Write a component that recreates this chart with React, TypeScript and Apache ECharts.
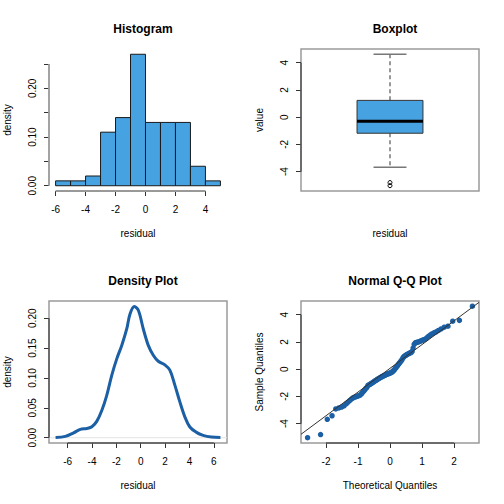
import React, { useEffect, useRef } from "react";
import * as echarts from "echarts";

// ---------- Data ----------
const HIST_BIN_START = [-6, -5, -4, -3, -2, -1, 0, 1, 2, 3, 4];
const HIST_BIN_END = [-5, -4, -3, -2, -1, 0, 1, 2, 3, 4, 5];
const HIST_DENSITY = [0.01, 0.01, 0.02, 0.11, 0.14, 0.27, 0.13, 0.13, 0.13, 0.04, 0.01];
const HIST_X_TICKS = [-6, -4, -2, 0, 2, 4];
const HIST_Y_TICKS = [0, 0.05, 0.1, 0.15, 0.2, 0.25];
const HIST_Y_LABELS = [0, 0.1, 0.2];

// boxplot stats: lower whisker, Q1, median, Q3, upper whisker
const BOX_STATS = [-3.68, -1.18, -0.31, 1.23, 4.62];
const BOX_OUTLIERS = [-5.03, -4.8];
const BOX_Y_TICKS = [-4, -2, 0, 2, 4];

const DENSITY_X = [-6.99, -6.19, -5.51, -4.96, -4.42, -4.01, -3.6, -3.19, -2.79, -2.38, -1.97, -1.56, -1.15, -0.88, -0.52, -0.19, 0.21, 0.62, 1.03, 1.44, 1.98, 2.39, 2.8, 3.21, 3.62, 4.03, 4.57, 5.12, 5.8, 6.54];
const DENSITY_Y = [0.0005, 0.0023, 0.0083, 0.014, 0.0156, 0.0183, 0.0278, 0.046, 0.071, 0.1045, 0.132, 0.1545, 0.182, 0.207, 0.2195, 0.213, 0.182, 0.1545, 0.138, 0.128, 0.122, 0.113, 0.088, 0.06, 0.035, 0.018, 0.009, 0.004, 0.0012, 0.0003];
const DENSITY_X_TICKS = [-6, -4, -2, 0, 2, 4, 6];
const DENSITY_Y_TICKS = [0, 0.05, 0.1, 0.15, 0.2];

const THEORETICAL = [
  -2.576, -2.17, -1.96, -1.812, -1.695, -1.598, -1.514, -1.44, -1.372, -1.311,
  -1.254, -1.2, -1.15, -1.103, -1.058, -1.015, -0.974, -0.935, -0.896, -0.86,
  -0.824, -0.789, -0.755, -0.722, -0.69, -0.659, -0.628, -0.598, -0.568, -0.539,
  -0.51, -0.482, -0.454, -0.426, -0.399, -0.372, -0.345, -0.319, -0.292, -0.266,
  -0.24, -0.215, -0.189, -0.164, -0.138, -0.113, -0.088, -0.063, -0.038, -0.013,
  0.013, 0.038, 0.063, 0.088, 0.113, 0.138, 0.164, 0.189, 0.215, 0.24,
  0.266, 0.292, 0.319, 0.345, 0.372, 0.399, 0.426, 0.454, 0.482, 0.51,
  0.539, 0.568, 0.598, 0.628, 0.659, 0.69, 0.722, 0.755, 0.789, 0.824,
  0.86, 0.896, 0.935, 0.974, 1.015, 1.058, 1.103, 1.15, 1.2, 1.254,
  1.311, 1.372, 1.44, 1.514, 1.598, 1.695, 1.812, 1.96, 2.17, 2.576,
];
const SAMPLE = [
  -5.03, -4.8, -3.68, -3.42, -2.92, -2.85, -2.78, -2.7, -2.55, -2.42,
  -2.3, -2.18, -2.1, -2.05, -2.02, -1.98, -1.95, -1.9, -1.82, -1.72,
  -1.62, -1.52, -1.42, -1.33, -1.2, -1.16, -1.12, -1.07, -1.03, -0.98,
  -0.93, -0.88, -0.84, -0.8, -0.76, -0.72, -0.68, -0.64, -0.6, -0.57,
  -0.54, -0.51, -0.48, -0.45, -0.42, -0.39, -0.36, -0.34, -0.32, -0.3,
  -0.28, -0.25, -0.21, -0.16, -0.1, -0.04, 0.05, 0.12, 0.2, 0.28,
  0.36, 0.44, 0.52, 0.6, 0.68, 0.8, 0.9, 0.96, 0.99, 1.04,
  1.08, 1.12, 1.16, 1.2, 1.22, 1.3, 1.55, 1.82, 1.93, 1.96,
  1.98, 2.0, 2.04, 2.08, 2.12, 2.16, 2.2, 2.3, 2.4, 2.5,
  2.58, 2.66, 2.74, 2.84, 2.95, 3.08, 3.15, 3.52, 3.58, 4.62,
];
const QQ_INTERCEPT = 0.06;
const QQ_SLOPE = 1.74;
const QQ_X_TICKS = [-2, -1, 0, 1, 2];
const QQ_Y_TICKS = [-4, -2, 0, 2, 4];

// axis limits (R style 4% extension)
const HIST_XLIM = [-6.44, 5.44];
const HIST_YLIM = [-0.0108, 0.2808];
const BOX_XLIM = [0.46, 1.54];
const SAMPLE_YLIM = [-5.42, 5.0];
const DENSITY_XLIM = [-7.53, 7.08];
const DENSITY_YLIM = [-0.0088, 0.2288];
const QQ_XLIM = [-2.782, 2.782];

// ---------- Styling ----------
const FONT = "Liberation Sans, Arial, Helvetica, sans-serif";
const FILL = "#47a2e1";
const DARK_BLUE = "#1b5fa4";
const BOX_BORDER = "#9a9a9a";
const AXIS_COLOR = "#555";

const PANEL_LEFT = 49;
const PANEL_TOP = 49;
const PANEL_W = 178;
const PANEL_H = 142;
const CELL = 252;

function gridFor(col: number, row: number, boxed: boolean) {
  return {
    left: PANEL_LEFT + col * CELL,
    top: PANEL_TOP + row * CELL,
    width: PANEL_W,
    height: PANEL_H,
    show: boxed,
    borderColor: BOX_BORDER,
    borderWidth: 1.5,
    backgroundColor: "transparent",
  };
}

const fmt2 = (v: number) => v.toFixed(2);
const fmtInt = (v: number) => String(Math.round(v));

function xAxisFor(idx: number, lim: number[], ticks: number[], labels: number[], name: string, fmt: (v: number) => string) {
  return {
    type: "value",
    gridIndex: idx,
    position: "bottom",
    min: lim[0],
    max: lim[1],
    axisLine: { show: false, onZero: false },
    splitLine: { show: false },
    axisTick: {
      show: ticks.length > 0,
      length: 5,
      customValues: ticks,
      lineStyle: { color: "#333", width: 1 },
    },
    axisLabel: {
      show: labels.length > 0,
      customValues: labels,
      formatter: (v: number) => fmt(v),
      margin: 13,
      fontSize: 10,
      color: "#000",
      fontFamily: FONT,
    },
    name,
    nameLocation: "middle",
    nameGap: 37,
    nameTextStyle: { fontSize: 10, color: "#000", fontFamily: FONT },
  };
}

function yAxisFor(idx: number, lim: number[], ticks: number[], labels: number[], name: string, fmt: (v: number) => string) {
  return {
    type: "value",
    gridIndex: idx,
    position: "left",
    min: lim[0],
    max: lim[1],
    axisLine: { show: false, onZero: false },
    splitLine: { show: false },
    axisTick: {
      show: ticks.length > 0,
      length: 5,
      customValues: ticks,
      lineStyle: { color: "#333", width: 1 },
    },
    axisLabel: {
      show: labels.length > 0,
      customValues: labels,
      formatter: (v: number) => fmt(v),
      rotate: 90,
      margin: 12,
      fontSize: 10,
      color: "#000",
      fontFamily: FONT,
    },
    name,
    nameLocation: "middle",
    nameRotate: 90,
    nameGap: 37,
    nameTextStyle: { fontSize: 10, color: "#000", fontFamily: FONT },
  };
}

function axisLineSeries(idx: number, pts: number[][], color: string, width: number) {
  return {
    type: "line",
    xAxisIndex: idx,
    yAxisIndex: idx,
    data: pts,
    symbol: "none",
    silent: true,
    clip: false,
    z: 5,
    lineStyle: { color, width },
  };
}

function titleFor(col: number, row: number, text: string) {
  return {
    text,
    left: PANEL_LEFT + col * CELL + PANEL_W / 2,
    top: 18 + row * CELL,
    textAlign: "center",
    textStyle: { fontSize: 12, fontWeight: "bold", color: "#000", fontFamily: FONT },
  };
}

export default function App() {
  const ref = useRef<HTMLDivElement>(null);

  useEffect(() => {
    if (!ref.current) return;
    const chart = echarts.init(ref.current, null, { renderer: "svg" });

    const histData = HIST_BIN_START.map((s, i) => [s, HIST_BIN_END[i], HIST_DENSITY[i]]);
    const densityData = DENSITY_X.map((x, i) => [x, DENSITY_Y[i]]);
    const qqData = THEORETICAL.map((x, i) => [x, SAMPLE[i]]);
    const qqLine = QQ_XLIM.map((x) => [x, QQ_INTERCEPT + QQ_SLOPE * x]);

    const option: any = {
      animation: false,
      backgroundColor: "#fff",
      textStyle: { fontFamily: FONT },
      title: [
        titleFor(0, 0, "Histogram"),
        titleFor(1, 0, "Boxplot"),
        titleFor(0, 1, "Density Plot"),
        titleFor(1, 1, "Normal Q-Q Plot"),
      ],
      grid: [gridFor(0, 0, false), gridFor(1, 0, true), gridFor(0, 1, true), gridFor(1, 1, true)],
      xAxis: [
        xAxisFor(0, HIST_XLIM, HIST_X_TICKS, HIST_X_TICKS, "residual", fmtInt),
        xAxisFor(1, BOX_XLIM, [], [], "residual", fmtInt),
        xAxisFor(2, DENSITY_XLIM, DENSITY_X_TICKS, DENSITY_X_TICKS, "residual", fmtInt),
        xAxisFor(3, QQ_XLIM, QQ_X_TICKS, QQ_X_TICKS, "Theoretical Quantiles", fmtInt),
      ],
      yAxis: [
        yAxisFor(0, HIST_YLIM, HIST_Y_TICKS, HIST_Y_LABELS, "density", fmt2),
        yAxisFor(1, SAMPLE_YLIM, BOX_Y_TICKS, BOX_Y_TICKS, "value", fmtInt),
        yAxisFor(2, DENSITY_YLIM, DENSITY_Y_TICKS, DENSITY_Y_TICKS, "density", fmt2),
        yAxisFor(3, SAMPLE_YLIM, QQ_Y_TICKS, QQ_Y_TICKS, "Sample Quantiles", fmtInt),
      ],
      series: [
        // Histogram bars
        {
          type: "custom",
          xAxisIndex: 0,
          yAxisIndex: 0,
          data: histData,
          encode: { x: [0, 1], y: 2 },
          renderItem: (_p: any, api: any) => {
            const p0 = api.coord([api.value(0), api.value(2)]);
            const p1 = api.coord([api.value(1), 0]);
            return {
              type: "rect",
              shape: { x: p0[0], y: p0[1], width: p1[0] - p0[0], height: p1[1] - p0[1] },
              style: { fill: FILL, stroke: "#1a1a1a", lineWidth: 1 },
            };
          },
        },
        axisLineSeries(0, [[HIST_X_TICKS[0], HIST_YLIM[0]], [HIST_X_TICKS[HIST_X_TICKS.length - 1], HIST_YLIM[0]]], "#999", 1.8),
        axisLineSeries(0, [[HIST_XLIM[0], HIST_Y_TICKS[0]], [HIST_XLIM[0], HIST_Y_TICKS[HIST_Y_TICKS.length - 1]]], "#999", 1.8),

        // Boxplot
        {
          type: "custom",
          xAxisIndex: 1,
          yAxisIndex: 1,
          data: [[1, ...BOX_STATS]],
          encode: { x: 0, y: [1, 2, 3, 4, 5] },
          renderItem: (_p: any, api: any) => {
            const c = api.value(0);
            const lo = api.coord([c, api.value(1)]);
            const q1 = api.coord([c, api.value(2)]);
            const med = api.coord([c, api.value(3)]);
            const q3 = api.coord([c, api.value(4)]);
            const hi = api.coord([c, api.value(5)]);
            const bl = api.coord([c - 0.2, 0])[0];
            const br = api.coord([c + 0.2, 0])[0];
            const cl = api.coord([c - 0.1, 0])[0];
            const cr = api.coord([c + 0.1, 0])[0];
            const x = lo[0];
            const wStyle = { stroke: "#777", lineWidth: 1.5, lineDash: [4, 3] };
            const cStyle = { stroke: "#777", lineWidth: 1.5 };
            return {
              type: "group",
              children: [
                { type: "line", shape: { x1: x, y1: hi[1], x2: x, y2: q3[1] }, style: wStyle },
                { type: "line", shape: { x1: x, y1: q1[1], x2: x, y2: lo[1] }, style: wStyle },
                { type: "line", shape: { x1: cl, y1: hi[1], x2: cr, y2: hi[1] }, style: cStyle },
                { type: "line", shape: { x1: cl, y1: lo[1], x2: cr, y2: lo[1] }, style: cStyle },
                {
                  type: "rect",
                  shape: { x: bl, y: q3[1], width: br - bl, height: q1[1] - q3[1] },
                  style: { fill: FILL, stroke: "#333", lineWidth: 1 },
                },
                { type: "line", shape: { x1: bl, y1: med[1], x2: br, y2: med[1] }, style: { stroke: "#000", lineWidth: 3 } },
              ],
            };
          },
        },
        {
          type: "scatter",
          xAxisIndex: 1,
          yAxisIndex: 1,
          data: BOX_OUTLIERS.map((v) => [1, v]),
          symbol: "circle",
          symbolSize: 4,
          itemStyle: { color: "rgba(0,0,0,0)", borderColor: "#000", borderWidth: 1, opacity: 1 },
          z: 6,
        },
        axisLineSeries(1, [[BOX_XLIM[0], BOX_Y_TICKS[0]], [BOX_XLIM[0], BOX_Y_TICKS[BOX_Y_TICKS.length - 1]]], AXIS_COLOR, 1.5),

        // Density
        {
          type: "line",
          xAxisIndex: 2,
          yAxisIndex: 2,
          data: [[DENSITY_XLIM[0], 0], [DENSITY_XLIM[1], 0]],
          symbol: "none",
          silent: true,
          lineStyle: { color: "#e3e3e3", width: 1 },
        },
        {
          type: "line",
          xAxisIndex: 2,
          yAxisIndex: 2,
          data: densityData,
          smooth: 0.35,
          symbol: "none",
          lineStyle: { color: DARK_BLUE, width: 3 },
          z: 4,
        },
        axisLineSeries(2, [[DENSITY_X_TICKS[0], DENSITY_YLIM[0]], [DENSITY_X_TICKS[DENSITY_X_TICKS.length - 1], DENSITY_YLIM[0]]], AXIS_COLOR, 1.5),
        axisLineSeries(2, [[DENSITY_XLIM[0], DENSITY_Y_TICKS[0]], [DENSITY_XLIM[0], DENSITY_Y_TICKS[DENSITY_Y_TICKS.length - 1]]], AXIS_COLOR, 1.5),

        // Q-Q
        {
          type: "scatter",
          xAxisIndex: 3,
          yAxisIndex: 3,
          data: qqData,
          symbolSize: 5.5,
          itemStyle: { color: DARK_BLUE, opacity: 1 },
          z: 3,
        },
        {
          type: "line",
          xAxisIndex: 3,
          yAxisIndex: 3,
          data: qqLine,
          symbol: "none",
          silent: true,
          clip: true,
          lineStyle: { color: "#333", width: 1 },
          z: 4,
        },
        axisLineSeries(3, [[QQ_X_TICKS[0], SAMPLE_YLIM[0]], [QQ_X_TICKS[QQ_X_TICKS.length - 1], SAMPLE_YLIM[0]]], AXIS_COLOR, 1.5),
        axisLineSeries(3, [[QQ_XLIM[0], QQ_Y_TICKS[0]], [QQ_XLIM[0], QQ_Y_TICKS[QQ_Y_TICKS.length - 1]]], AXIS_COLOR, 1.5),
      ],
    };

    chart.setOption(option);
    return () => chart.dispose();
  }, []);

  return (
    <div
      ref={ref}
      style={{ position: "absolute", left: 0, top: 0, width: 504, height: 504, background: "#fff" }}
    />
  );
}
